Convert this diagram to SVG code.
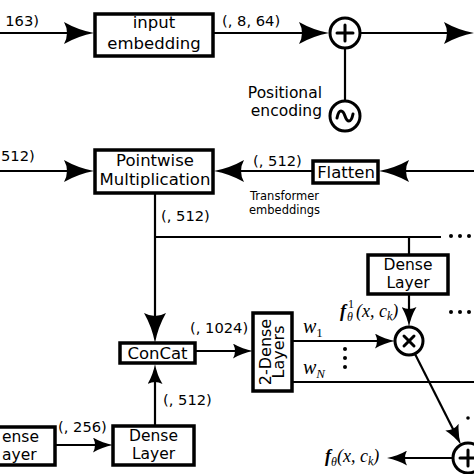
<svg xmlns="http://www.w3.org/2000/svg" width="474" height="474" viewBox="0 0 474 474">
<defs>
<style>
.box{fill:#fff;stroke:#000;stroke-width:3.5}
.ln{fill:none;stroke:#000;stroke-width:2.2}
.big{marker-end:url(#ahBig)}
.sm{marker-end:url(#ahSm)}
.op{fill:#fff;stroke:#000;stroke-width:3}
.opl{fill:none;stroke:#000;stroke-width:3;stroke-linecap:round}
.nt{font-family:"DejaVu Sans",sans-serif;font-size:16.5px;text-anchor:middle;fill:#000}
.n2{font-size:15.5px}
.lb{font-family:"DejaVu Sans",sans-serif;font-size:14.7px;fill:#000}
.sml{font-family:"DejaVu Sans",sans-serif;font-size:11.5px;fill:#000}
.mt{font-family:"Liberation Serif",serif;font-style:italic;font-size:18px;fill:#000}
.dot{fill:#000}
</style>
<marker id="ahBig" viewBox="0 0 30 22" markerWidth="30" markerHeight="22" refX="22" refY="11" orient="auto" markerUnits="userSpaceOnUse">
<path d="M0,0 Q14,8 30,11 Q14,14 0,22 Q6,11 0,0 Z" fill="#000"/>
</marker>
<marker id="ahSm" viewBox="0 0 20 15" markerWidth="20" markerHeight="15" refX="14" refY="7.5" orient="auto" markerUnits="userSpaceOnUse">
<path d="M0,0 Q9,5.5 20,7.5 Q9,9.5 0,15 Q4,7.5 0,0 Z" fill="#000"/>
</marker>
</defs>
<rect width="474" height="474" fill="#fff"/>

<g id="connectors">
<line class="ln big" x1="0" y1="33" x2="86" y2="33"/>
<line class="ln big" x1="213" y1="33" x2="321" y2="33"/>
<line class="ln big" x1="360" y1="33" x2="466" y2="33"/>
<line class="ln" x1="345" y1="48" x2="345" y2="101"/>
<line class="ln big" x1="0" y1="171" x2="86" y2="171"/>
<line class="ln big" x1="313" y1="171" x2="222" y2="171"/>
<line class="ln big" x1="474" y1="171" x2="387" y2="171"/>
<line class="ln big" x1="155" y1="193" x2="155" y2="335"/>
<line class="ln" x1="155" y1="237" x2="441" y2="237"/>
<line class="ln" x1="409" y1="237" x2="409" y2="255"/>
<line class="ln sm" x1="409" y1="294" x2="409" y2="321"/>
<line class="ln sm" x1="195" y1="351" x2="247" y2="351"/>
<line class="ln sm" x1="155" y1="426" x2="155" y2="370"/>
<line class="ln sm" x1="55" y1="445" x2="107" y2="445"/>
<line class="ln sm" x1="292" y1="341" x2="389" y2="341"/>
<line class="ln" x1="292" y1="382" x2="474" y2="382"/>
<line class="ln sm" x1="415" y1="354" x2="458.3" y2="439.6"/>
<line class="ln sm" x1="453" y1="458" x2="393" y2="458"/>
</g>

<g id="input-embedding">
<rect class="box" x="95" y="14" width="118" height="42"/>
<text class="nt" x="154" y="28">input</text>
<text class="nt" x="154" y="49">embedding</text>
</g>

<g id="plus-top">
<circle class="op" cx="345" cy="33" r="15"/>
<line class="opl" x1="337" y1="33" x2="353" y2="33"/>
<line class="opl" x1="345" y1="25" x2="345" y2="41"/>
</g>

<g id="positional-encoding">
<circle class="op" cx="345" cy="116" r="15"/>
<path class="opl" d="M337,118 C339,108 343,110 345,116 C347,122 351,124 353,114"/>
<text class="nt n2" style="text-anchor:end" x="322" y="98">Positional</text>
<text class="nt n2" style="text-anchor:end" x="322" y="116">encoding</text>
</g>

<g id="pointwise">
<rect class="box" x="95" y="150" width="118" height="43"/>
<text class="nt" x="155" y="166">Pointwise</text>
<text class="nt" x="155" y="185">Multiplication</text>
</g>

<g id="flatten">
<rect class="box" x="313" y="161" width="65" height="22"/>
<text class="nt" x="346" y="177.5">Flatten</text>
</g>

<g id="dense-right">
<rect class="box" x="368" y="255" width="80" height="39"/>
<text class="nt n2" x="408" y="270">Dense</text>
<text class="nt n2" x="408" y="288">Layer</text>
</g>

<g id="times">
<circle class="op" cx="409" cy="341" r="14"/>
<line class="opl" x1="404" y1="336" x2="414" y2="346"/>
<line class="opl" x1="414" y1="336" x2="404" y2="346"/>
</g>

<g id="concat">
<rect class="box" x="120" y="343" width="75" height="20"/>
<text class="nt" x="157.5" y="358.5">ConCat</text>
</g>

<g id="two-dense">
<rect class="box" x="253" y="313" width="39" height="78"/>
<text class="nt" style="font-size:16px" transform="translate(272.5,352) rotate(-90)"><tspan x="0" y="-1.5">2-Dense</tspan><tspan x="0" y="11.5">Layers</tspan></text>
</g>

<g id="dense-bottom">
<rect class="box" x="113" y="426" width="81" height="39"/>
<text class="nt n2" x="153.5" y="441">Dense</text>
<text class="nt n2" x="153.5" y="459">Layer</text>
</g>

<g id="dense-left">
<rect class="box" x="-25" y="427" width="80" height="38"/>
<text class="nt n2" style="text-anchor:start" x="2" y="442">ense</text>
<text class="nt n2" style="text-anchor:start" x="2" y="460">ayer</text>
</g>

<g id="plus-bottom">
<circle class="op" cx="468" cy="458" r="15"/>
<line class="opl" x1="460" y1="458" x2="476" y2="458"/>
<line class="opl" x1="468" y1="450" x2="468" y2="466"/>
</g>

<g id="labels">
<text class="lb" x="39" y="26" text-anchor="end">163)</text>
<text class="lb" x="222" y="26">(, 8, 64)</text>
<text class="lb" x="1" y="161">512)</text>
<text class="lb" x="253" y="166">(, 512)</text>
<text class="sml" x="250" y="200">Transformer</text>
<text class="sml" x="249" y="214">embeddings</text>
<text class="lb" x="161" y="221">(, 512)</text>
<text class="lb" x="190" y="333">(, 1024)</text>
<text class="lb" x="163" y="405">(, 512)</text>
<text class="lb" x="58" y="432">(, 256)</text>
<text class="mt" x="340" y="317"><tspan font-weight="bold">f</tspan><tspan x="348" y="308" font-size="12" font-style="normal">1</tspan><tspan x="347" y="321" font-size="12">θ</tspan><tspan x="356" y="317">(x, c</tspan><tspan font-size="12" y="320">k</tspan><tspan y="317">)</tspan></text>
<text class="mt" style="font-size:20px" x="303" y="333">w<tspan font-size="13" y="337" font-style="normal">1</tspan></text>
<text class="mt" style="font-size:20px" x="303" y="374">w<tspan font-size="13" y="378">N</tspan></text>
<text class="mt" x="325" y="462"><tspan font-weight="bold">f</tspan><tspan font-size="12" y="466">θ</tspan><tspan y="462">(x, c</tspan><tspan font-size="12" y="465">k</tspan><tspan y="462">)</tspan></text>
</g>

<g id="dots">
<circle class="dot" cx="451" cy="236" r="2"/><circle class="dot" cx="460" cy="236" r="2"/><circle class="dot" cx="469" cy="236" r="2"/>
<circle class="dot" cx="451" cy="312" r="2"/><circle class="dot" cx="460" cy="312" r="2"/><circle class="dot" cx="469" cy="312" r="2"/>
<circle class="dot" cx="345" cy="349" r="2"/><circle class="dot" cx="345" cy="358" r="2"/><circle class="dot" cx="345" cy="367" r="2"/>
<circle class="dot" cx="468" cy="418" r="1.8"/>
</g>
</svg>
